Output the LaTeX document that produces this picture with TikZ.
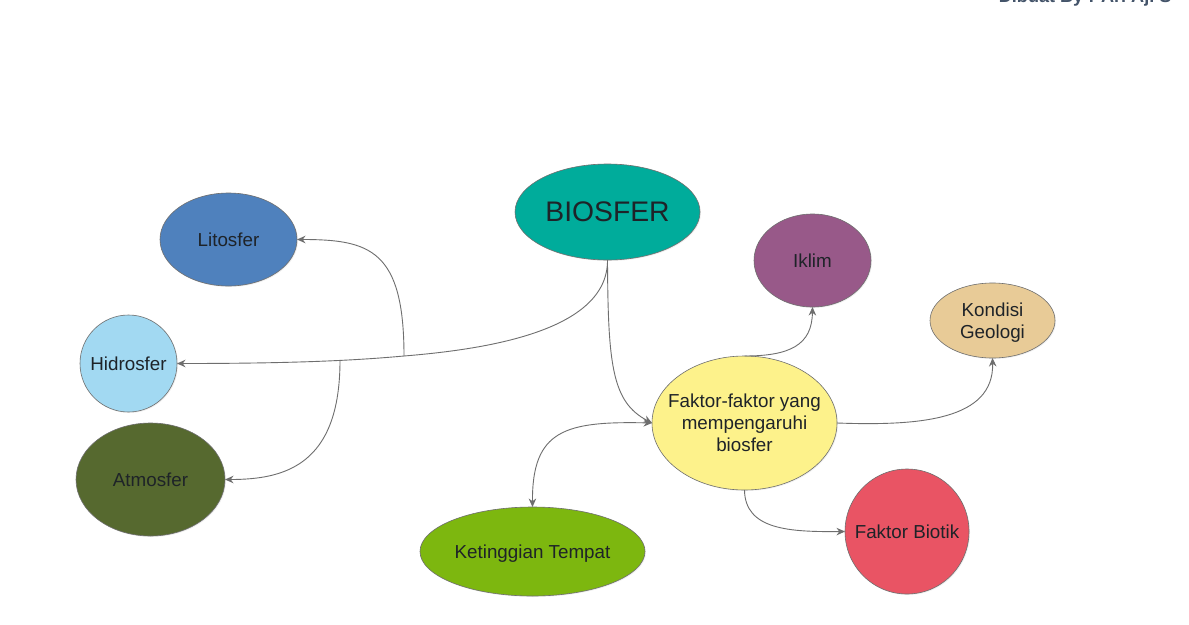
\documentclass[tikz,border=0pt]{standalone}
\usepackage{fontspec}
\setmainfont{Liberation Sans}
\usetikzlibrary{shapes.geometric,arrows.meta,shadows}
\definecolor{cBio}{RGB}{0,172,155}
\definecolor{cLit}{RGB}{79,129,189}
\definecolor{cHid}{RGB}{162,217,242}
\definecolor{cAtm}{RGB}{86,105,47}
\definecolor{cIkl}{RGB}{152,89,137}
\definecolor{cKon}{RGB}{232,203,151}
\definecolor{cFak}{RGB}{253,242,139}
\definecolor{cBtk}{RGB}{233,84,100}
\definecolor{cKet}{RGB}{125,183,15}
\definecolor{cTxt}{RGB}{30,35,40}
\definecolor{cLine}{RGB}{110,110,110}
\definecolor{cHead}{RGB}{68,84,106}
\tikzset{
  blob/.style={ellipse,draw=cLine,line width=0.6pt,inner sep=0pt,outer sep=0pt,align=center,text=cTxt,
    font=\fontsize{18.8}{22}\selectfont,
    drop shadow={opacity=0.12,shadow xshift=1pt,shadow yshift=-1pt}},
  link/.style={draw=cLine,line width=0.9pt,-{Stealth[length=8.5pt,width=7.5pt]}},
  both/.style={draw=cLine,line width=0.9pt,{Stealth[length=8.5pt,width=7.5pt]}-{Stealth[length=8.5pt,width=7.5pt]}}
}
\begin{document}
\begin{tikzpicture}[x=1pt,y=-1pt]
\useasboundingbox (0,0) rectangle (1189,624);
\fill[white] (0,0) rectangle (1189,624);
\node[anchor=base east,text=cHead,font=\bfseries\fontsize{18.1}{22}\selectfont] (head) at (1175,2) {Dibuat By : Ari Aji S};
\coordinate (jlit) at (404,356);
\coordinate (jatm) at (340,360.4);
\node[blob,fill=cBio,minimum width=185pt,minimum height=96pt,font=\fontsize{28.3}{32}\selectfont] (bio) at (607.5,212) {BIOSFER};
\node[blob,fill=cLit,minimum width=137pt,minimum height=93pt] (lit) at (228.5,239.5) {Litosfer};
\node[blob,fill=cHid,minimum width=97pt,minimum height=97pt,inner xsep=-10pt] (hid) at (128.5,363.5) {Hidrosfer};
\node[blob,fill=cAtm,minimum width=149pt,minimum height=113pt] (atm) at (150.5,479.5) {Atmosfer};
\node[blob,fill=cIkl,minimum width=117pt,minimum height=93pt] (ikl) at (812.5,260.5) {Iklim};
\node[blob,fill=cKon,minimum width=125pt,minimum height=75pt,inner xsep=-6pt,inner ysep=-6pt] (kon) at (992.5,320.5) {\rule{0pt}{18pt}Kondisi\\Geologi};
\node[blob,fill=cFak,minimum width=185pt,minimum height=134pt,inner xsep=-25pt,inner ysep=-15pt] (fak) at (744.5,423) {Faktor-faktor yang\\mempengaruhi\\biosfer};
\node[blob,fill=cBtk,minimum width=124pt,minimum height=125pt,inner xsep=-20pt] (btk) at (907,531.5) {Faktor Biotik};
\node[blob,fill=cKet,minimum width=225pt,minimum height=89pt,inner xsep=-30pt] (ket) at (532.5,551.5) {\rule{0pt}{18pt}Ketinggian Tempat};
\draw[draw=cLine,line width=0.9pt] (bio.south) .. controls (608,330) and (490,349) .. (jlit);
\draw[link] (jlit) .. controls (360,360) and (300,363.5) .. (hid.east);
\draw[link] (jlit) .. controls (404,250) and (370,239.5) .. (lit.east);
\draw[link] (jatm) .. controls (340,465) and (285,479.5) .. (atm.east);
\draw[link] (bio.south) .. controls (608,365) and (612,402) .. (fak.west);
\draw[both] (fak.west) .. controls (565,421) and (532,430) .. (ket.north);
\draw[link] (fak.north) .. controls (790,356) and (812,345) .. (ikl.south);
\draw[link] (fak.east) .. controls (920,426) and (994,420) .. (kon.south);
\draw[link] (fak.south) .. controls (745,530) and (790,532) .. (btk.west);
\end{tikzpicture}
\end{document}
